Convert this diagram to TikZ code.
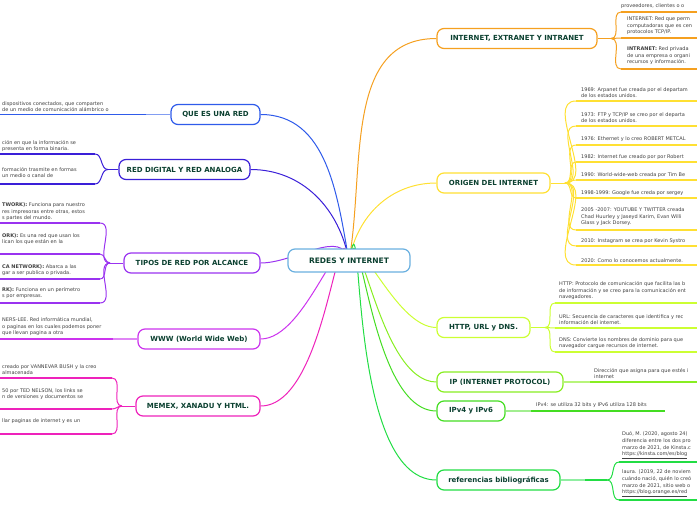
\documentclass[tikz,border=0pt]{standalone}
\usepackage{fontspec}
\setmainfont{DejaVu Sans}
\definecolor{cQ}{HTML}{2F5BEA}
\definecolor{cD}{HTML}{3A1FD8}
\definecolor{cT}{HTML}{9A33F0}
\definecolor{cW}{HTML}{CC33EE}
\definecolor{cM}{HTML}{EE22BB}
\definecolor{cO}{HTML}{F5A020}
\definecolor{cY}{HTML}{FFE033}
\definecolor{cH}{HTML}{CCFF33}
\definecolor{cI}{HTML}{88EE22}
\definecolor{cV}{HTML}{44DD22}
\definecolor{cR}{HTML}{22DD44}
\definecolor{cC}{HTML}{6AB0E0}
\definecolor{tx}{HTML}{0B4030}
\tikzset{
 br/.style={draw=#1,fill=white,rounded corners=7pt,line width=1.2pt,minimum height=20pt,inner sep=2pt,font=\fontsize{7}{8}\selectfont\bfseries,text=tx},
 lf/.style={inner sep=0pt,font=\fontsize{5}{6.6}\selectfont,text=black!75,align=left,anchor=south west},
 cn/.style={draw=#1,line width=1pt},
 ul/.style={draw=#1,line width=1.4pt}
}
\newcommand{\lfR}[5]{\draw[cn=#5] (#1) to[out=0,in=180] (#2,#3); \draw[ul=#5] (#2,#3) -- (#4,#3);}
\newcommand{\lfL}[5]{\draw[cn=#5] (#1) to[out=180,in=0] (#2,#3); \draw[ul=#5] (#2,#3) -- (#4,#3);}
\begin{document}
\begin{tikzpicture}[x=1pt,y=-1pt]
\useasboundingbox (0,0) rectangle (697,520);
\coordinate (hub) at (349,261);
% ---------- left branches
\node[br=cQ,minimum width=89pt] (q) at (215.5,114.5) {QUE ES UNA RED};
\node[br=cD,minimum width=131pt] (d) at (184.5,169.5) {RED DIGITAL Y RED ANALOGA};
\node[br=cT,minimum width=136pt] (t) at (192,263) {TIPOS DE RED POR ALCANCE};
\node[br=cW,minimum width=122pt] (w) at (199,339) {WWW (World Wide Web)};
\node[br=cM,minimum width=124pt] (m) at (198,406) {MEMEX, XANADU Y HTML.};
\foreach \n/\c in {q/cQ,d/cD,t/cT,w/cW,m/cM}{
 \draw[cn=\c] (hub) to[out=100,in=0] (\n.east);}
% QUE ES
\draw[ul=cQ!60] (q.west) -- (146,114.5);
\draw[ul=cQ] (146,114.5) -- (0,114.5);
\node[lf] at (2,112) {dispositivos conectados, que comparten\\de un medio de comunicación alámbrico o};
% digital
\coordinate (db) at (108,169.5);
\draw[cn=cD] (d.west) -- (db);
\lfL{db}{95}{154}{0}{cD}
\lfL{db}{95}{184}{0}{cD}
\node[lf] at (2,152) {ción en que la información se\\ presenta en forma binaria.};
\node[lf] at (2,178) {formación trasmite en formas\\un medio o canal de};
% tipos
\coordinate (tb) at (110,263);
\draw[cn=cT] (t.west) -- (tb);
\lfL{tb}{100}{223}{0}{cT}
\lfL{tb}{100}{254}{0}{cT}
\lfL{tb}{100}{279}{0}{cT}
\lfL{tb}{100}{303}{0}{cT}
\node[lf] at (2,221) {\textbf{TWORK):} Funciona para nuestro\\res impresoras entre otras, estos\\s partes del mundo.};
\node[lf] at (2,245) {\textbf{ORK):} Es una red que usan los\\lican los que están en la};
\node[lf] at (2,276) {\textbf{CA NETWORK):} Abarca a las\\gar a ser publica o privada.};
\node[lf] at (2,299) {\textbf{RK):} Funciona en un perímetro\\s por empresas.};
% www
\draw[ul=cW!60] (w.west) -- (113,339);
\draw[ul=cW] (113,339) -- (0,339);
\node[lf] at (2,336) {NERS-LEE. Red informática mundial,\\o paginas en los cuales podemos poner\\que llevan pagina a otra};
% memex
\coordinate (mb) at (122,406);
\draw[cn=cM] (m.west) -- (mb);
\lfL{mb}{112}{378}{0}{cM}
\lfL{mb}{112}{409}{0}{cM}
\lfL{mb}{112}{434}{0}{cM}
\node[lf] at (2,375) {creado por VANNEVAR BUSH y la creo\\ almacenada};
\node[lf] at (2,400) {50 por TED NELSON, los links se\\n de versiones y  documentos se};
\node[lf] at (2,424) {llar paginas de internet y es un};
% ---------- right branches
\node[br=cO,minimum width=160pt] (o) at (517,38.5) {INTERNET, EXTRANET Y INTRANET};
\node[br=cY,minimum width=113pt] (y) at (493.5,183) {ORIGEN DEL INTERNET};
\node[br=cH,minimum width=93pt] (h) at (483.5,327.5) {HTTP, URL y DNS.};
\node[br=cI,minimum width=126pt] (i) at (500,382) {IP (INTERNET PROTOCOL)};
\node[br=cV,minimum width=68pt] (v) at (471,411) {IPv4 y IPv6};
\node[br=cR,minimum width=123pt] (r) at (498.5,480) {referencias bibliográficas};
\foreach \n/\c in {o/cO,y/cY,h/cH,i/cI,v/cV,r/cR}{
 \draw[cn=\c] (hub) to[out=80,in=180] (\n.west);}
% internet
\coordinate (ob) at (611,38.5);
\draw[cn=cO] (o.east) -- (ob);
\lfR{ob}{621}{12}{697}{cO}
\lfR{ob}{621}{38}{697}{cO}
\lfR{ob}{621}{69}{697}{cO}
\node[lf] at (621,9) {proveedores, clientes o o};
\node[lf] at (627,35) {INTERNET: Red que perm\\computadoras que es cen\\protocolos TCP/IP.};
\node[lf] at (627,65) {\textbf{INTRANET:} Red privada\\de una empresa o organi\\recursos y información.};
% origen
\coordinate (yb) at (565,183);
\draw[cn=cY] (y.east) -- (yb);
\foreach \yy in {101,126,145,162,180,198,230,246,265}{\lfR{yb}{576}{\yy}{697}{cY}}
\node[lf] at (581,98) {1969: Arpanet fue creada por el departam\\de los estados unidos.};
\node[lf] at (581,123) {1973: FTP y TCP/IP se creo por el departa\\de los estados unidos.};
\node[lf] at (581,142) {1976: Ethernet y lo creo ROBERT METCAL};
\node[lf] at (581,160) {1982: Internet fue creado por por Robert};
\node[lf] at (581,178) {1990: World-wide-web creada por Tim Be};
\node[lf] at (581,196) {1998-1999: Google fue creda por sergey};
\node[lf] at (581,226) {2005 -2007: YOUTUBE Y TWITTER creada\\Chad Huurley  y Jaseyd Karim, Evan Willi\\Glass y Jack Dorsey.};
\node[lf] at (581,244) {2010: Instagram se crea por Kevin Systro};
\node[lf] at (581,263) {2020: Como lo conocemos actualmente.};
% http
\coordinate (hb) at (545,327.5);
\draw[cn=cH] (h.east) -- (hb);
\foreach \yy in {303,328,352}{\lfR{hb}{555}{\yy}{697}{cH}}
\node[lf] at (559,300) {HTTP: Protocolo de comunicación que facilita las b\\de información y se creo para la comunicación ent\\navegadores.};
\node[lf] at (559,325) {URL: Secuencia de caracteres que identifica y rec\\información del internet.};
\node[lf] at (559,349) {DNS: Convierte los nombres de dominio para que\\navegador cargue recursos de internet.};
% ip
\draw[ul=cI!60] (i.east) -- (590,382);
\draw[ul=cI] (590,382) -- (697,382);
\node[lf] at (594,379) {Dirección que asigna para que estés i\\internet};
% ipv4
\draw[ul=cV!50] (v.east) -- (531,411);
\draw[ul=cV] (531,411) -- (665,411);
\node[lf] at (536,408) {IPv4: se utiliza 32 bits y IPv6 utiliza 128 bits};
% refs
\coordinate (rb) at (607,480);
\draw[ul=cR!50] (r.east) -- (585,480);
\draw[ul=cR] (585,480) -- (rb);
\lfR{rb}{619}{462}{697}{cR}
\lfR{rb}{619}{500}{697}{cR}
\node[lf] at (622,459) {Duó, M. (2020, agosto 24)\\diferencia entre los dos pro\\marzo de 2021, de Kinsta.c\\\underline{https://kinsta.com/es/blog}};
\node[lf] at (622,497) {laura. (2019, 22 de noviem\\cuándo nació, quién lo creó\\marzo de 2021, sitio web o\\\underline{https://blog.orange.es/red}};
% center
\node[draw=cC,fill=white,rounded corners=7pt,line width=1.2pt,minimum width=122pt,minimum height=23pt,font=\fontsize{7.5}{9}\selectfont\bfseries,text=tx] (c) at (349,260.5) {REDES Y INTERNET};
\end{tikzpicture}
\end{document}
